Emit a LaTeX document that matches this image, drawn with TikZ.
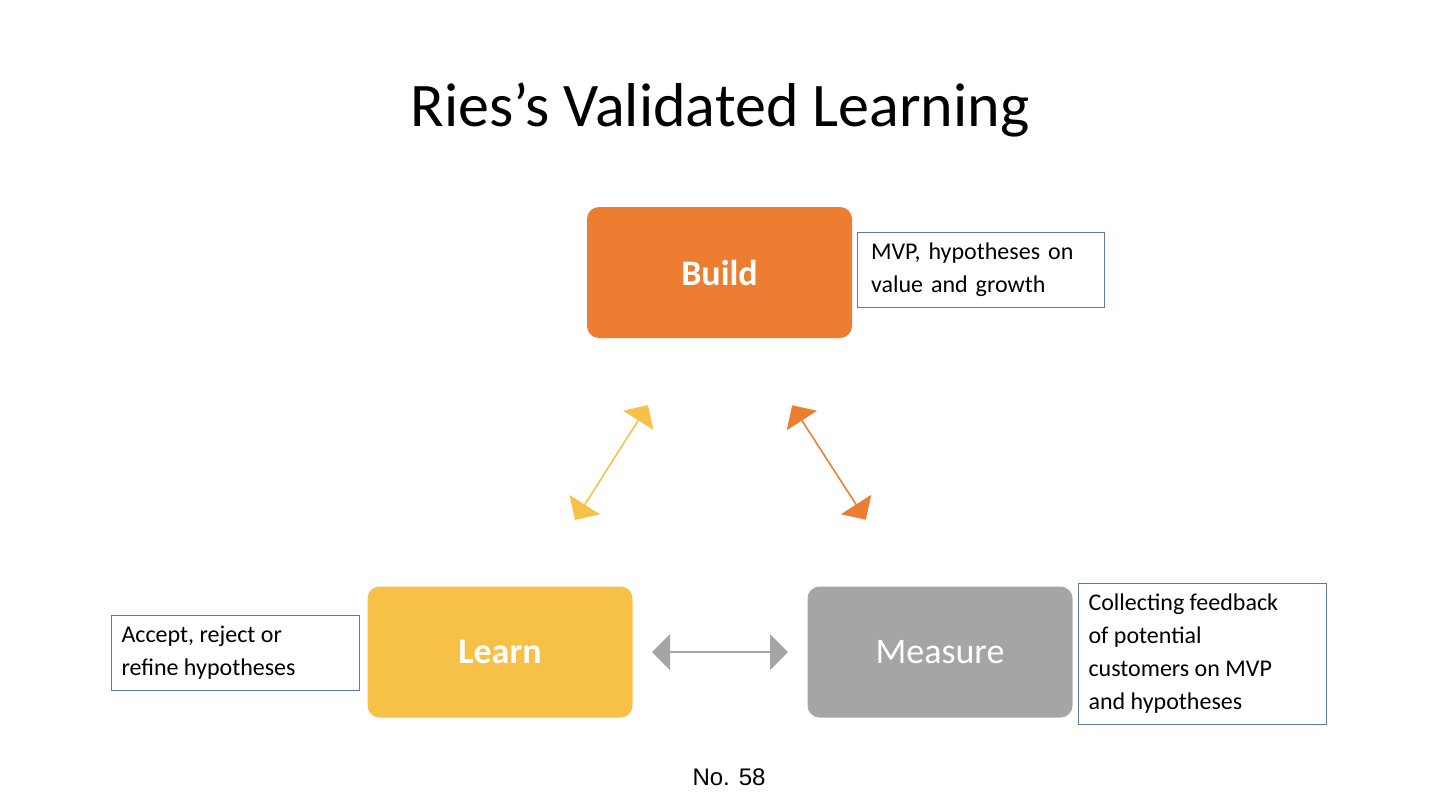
\documentclass[tikz,border=0pt]{standalone}
\usepackage{fontspec}
\setmainfont{Carlito}
\newfontfamily\arialf{Liberation Sans}
\usetikzlibrary{shapes.arrows}
\definecolor{corange}{HTML}{ED7D31}
\definecolor{cyellow}{HTML}{F7C046}
\definecolor{cgray}{HTML}{A5A5A5}
\definecolor{cnote}{HTML}{5B7BA6}
\begin{document}
\begin{tikzpicture}[x=0.5pt,y=-0.5pt,
  stage/.style={rounded corners=6pt,minimum width=132.5pt,minimum height=65.5pt,text=white,font=\fontsize{18}{22}\selectfont},
  note/.style={draw=cnote,line width=0.5pt,inner sep=0pt,anchor=north west,align=left,font=\fontsize{12}{16.5}\selectfont},
  dbl/.style={double arrow,double arrow head extend=4.5pt,inner sep=0pt,minimum width=18pt,minimum height=68pt}]
\fill[white] (0,0) rectangle (1440,794);
\node (title) at (720,110) {\fontsize{31}{36}\selectfont Ries’s Validated Learning};
\node[stage,fill=corange] (build) at (719.5,272.5) {\textbf{Build}};
\node[stage,fill=cyellow] (learn) at (500,652) {\textbf{Learn}};
\node[stage,fill=cgray] (measure) at (940,652) {Measure};
\node[note,minimum width=123.5pt,minimum height=37.5pt,text width=118pt] (n1) at (857,232) {\hspace*{4pt}\parbox{116pt}{MVP, hypotheses on\\value and growth}};
\node[note,minimum width=124pt,minimum height=37.5pt] (n2) at (111,615) {\hspace*{4pt}\parbox{118pt}{Accept, reject or\\refine hypotheses}};
\node[note,minimum width=124pt,minimum height=70.5pt] (n3) at (1078,583) {\hspace*{4pt}\parbox{118pt}{Collecting feedback\\of potential\\customers on MVP\\and hypotheses}};
\node[dbl,fill=cyellow,rotate=57.6] (a1) at (611.5,462.5) {};
\node[dbl,fill=corange,rotate=-57.2] (a2) at (829,462.5) {};
\node[dbl,fill=cgray] (a3) at (720,652) {};
\node (num) at (729,777) {\arialf\fontsize{12}{14}\selectfont No. 58};
\end{tikzpicture}
\end{document}
